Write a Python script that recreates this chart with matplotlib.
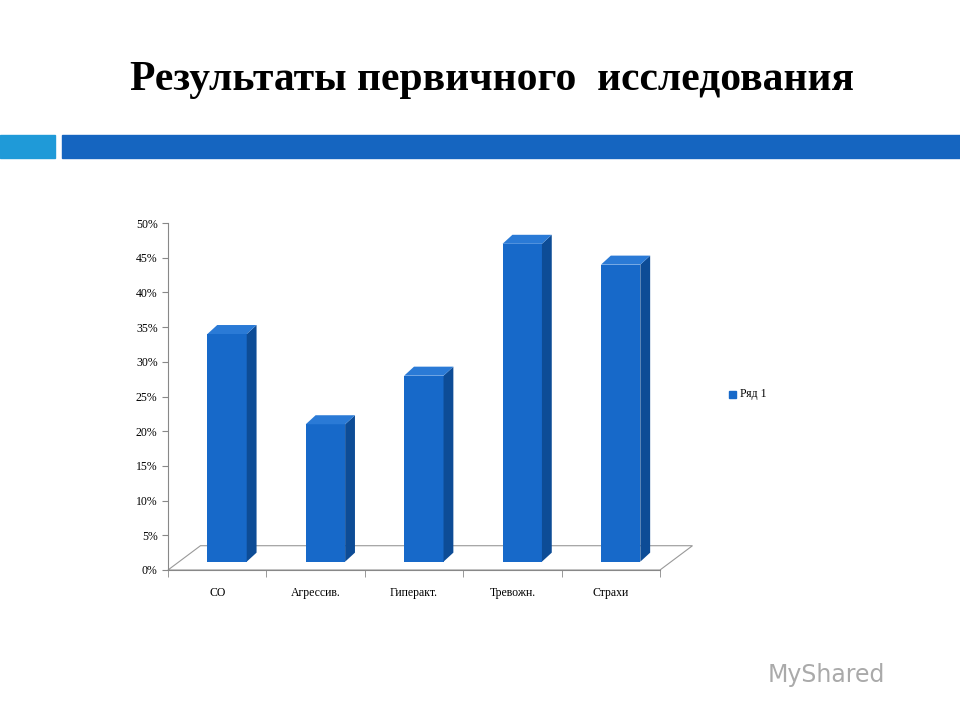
import matplotlib
matplotlib.use("Agg")
import matplotlib.pyplot as plt
from matplotlib.patches import Polygon, Rectangle

categories = ["СО", "Агрессив.", "Гиперакт.", "Тревожн.", "Страхи"]
values = [34, 21, 28, 47, 44]
yticks = [0, 5, 10, 15, 20, 25, 30, 35, 40, 45, 50]
series_name = "Ряд 1"

serif = ["Liberation Serif", "DejaVu Serif"]
fig = plt.figure(figsize=(9.6, 7.2), dpi=100)
fig.patch.set_facecolor("white")

fig.text(0.512, 0.889, "Результаты первичного  исследования", ha="center", va="center",
         fontsize=30, fontweight="bold", family=serif)
fig.add_artist(Rectangle((0, 1-158/720), 55/960, 23/720, transform=fig.transFigure, color="#1f9ad8"))
fig.add_artist(Rectangle((62/960, 1-158/720), 898/960, 23/720, transform=fig.transFigure, color="#1565c0"))

ax = fig.add_axes([168/960, 1-570/720, 492/960, 347/720])
ax.set_xlim(-0.5, 4.5)
ax.set_ylim(0, 50)
ax.set_clip_on(False)

dx, dy = 0.33, 3.5
floor = Polygon([(-0.5, 0), (4.5, 0), (4.5+dx, dy), (-0.5+dx, dy)], closed=True,
                facecolor="white", edgecolor="#999999", lw=0.8, clip_on=False, zorder=1)
ax.add_patch(floor)

w = 0.4
bdx, bdy = 0.1, 1.3
base = 1.2
front, side, top = "#1769c9", "#0d4c96", "#2a7ad6"
for i, v in enumerate(values):
    x0 = i - w/2 + 0.1
    ax.add_patch(Rectangle((x0, base), w, v - base, facecolor=front, edgecolor="none", zorder=3, clip_on=False))
    ax.add_patch(Polygon([(x0+w, base), (x0+w+bdx, base+bdy), (x0+w+bdx, v+bdy), (x0+w, v)],
                         facecolor=side, edgecolor="none", zorder=3, clip_on=False))
    ax.add_patch(Polygon([(x0, v), (x0+w, v), (x0+w+bdx, v+bdy), (x0+bdx, v+bdy)],
                         facecolor=top, edgecolor="none", zorder=3, clip_on=False))

ax.set_yticks(yticks)
ax.set_yticklabels([f"{t}%" for t in yticks], family=serif, fontsize=8.5)
ax.set_xticks(range(len(categories)))
ax.set_xticklabels(categories, family=serif, fontsize=8.5)
ax.set_xticks([i + 0.5 for i in range(-1, 5)], minor=True)
ax.tick_params(axis="x", which="major", length=0, pad=12)
ax.tick_params(axis="x", which="minor", length=5, color="#888888")
ax.tick_params(axis="y", length=4, color="#888888")
for s in ["top", "right"]:
    ax.spines[s].set_visible(False)
for s in ["left", "bottom"]:
    ax.spines[s].set_color("#888888")
ax.set_facecolor("none")

fig.add_artist(Rectangle((729/960, 1-398/720), 7/960, 7/720, transform=fig.transFigure, color=front))
fig.text(740/960, 1-394/720, series_name, family=serif, fontsize=8.5, va="center")

fig.text(0.8, 0.062, "MyShared", fontsize=17, color="#aaaaaa", va="center")

fig.savefig("out.png", dpi=100)
